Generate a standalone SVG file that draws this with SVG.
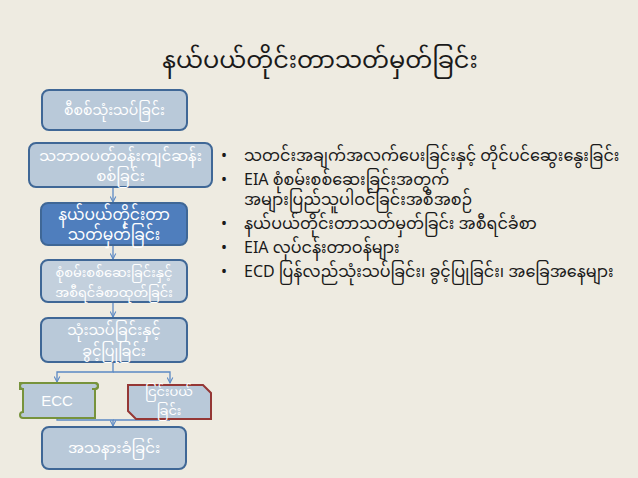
<svg xmlns="http://www.w3.org/2000/svg" width="638" height="478" viewBox="0 0 638 478">
<defs>
<style>
.bg{fill:#EEEBE1}
.t{font-family:"Noto Sans Myanmar","Padauk","Myanmar Text","Noto Sans","DejaVu Sans",sans-serif}
.title{font-size:24px;fill:#1a1a1a}
.box{fill:#B9C9D9;stroke:#3F6796;stroke-width:2}
.boxd{fill:#4F7EBD;stroke:#3F6796;stroke-width:2}
.bl{font-size:13.5px;fill:#FFFFFF}
.bul{font-size:16px;fill:#1a1a1a}
.conn{fill:none;stroke:#5B89C4;stroke-width:1.3}
</style>
<marker id="ah" viewBox="0 0 10 10" refX="9" refY="5" markerWidth="7" markerHeight="7" orient="auto" markerUnits="userSpaceOnUse">
<path d="M1,1 L9,5 L1,9" fill="none" stroke="#5B89C4" stroke-width="1.5"/>
</marker>
</defs>
<rect class="bg" x="0" y="0" width="638" height="478"/>
<text class="t title" x="320" y="68" text-anchor="middle">နယ်ပယ်တိုင်းတာသတ်မှတ်ခြင်း</text>

<g id="connectors">
<line class="conn" x1="113" y1="187" x2="113" y2="202" marker-end="url(#ah)"/>
<line class="conn" x1="113" y1="245" x2="113" y2="259" marker-end="url(#ah)"/>
<line class="conn" x1="113" y1="302" x2="113" y2="317" marker-end="url(#ah)"/>
<polyline class="conn" points="113,362 113,372 57,372 57,382" marker-end="url(#ah)"/>
<polyline class="conn" points="113,372 170,372 170,383" marker-end="url(#ah)"/>
<polyline class="conn" points="57,419 57,420 113,420 113,426" marker-end="url(#ah)"/>
<polyline class="conn" points="170,420 113,420"/>
</g>

<g id="n1"><rect class="box" x="42" y="90" width="145" height="40" rx="7"/>
<text class="t bl" x="114.5" y="115" text-anchor="middle" style="font-size:14px">စီစစ်သုံးသပ်ခြင်း</text></g>

<g id="n2"><rect class="box" x="29" y="143" width="183" height="44" rx="7"/>
<text class="t bl" x="120.5" y="161" text-anchor="middle" style="font-size:15px">သဘာဝပတ်ဝန်းကျင်ဆန်း</text>
<text class="t bl" x="120.5" y="181" text-anchor="middle" style="font-size:15px">စစ်ခြင်း</text></g>

<g id="n3"><rect class="boxd" x="41" y="203" width="146" height="42" rx="7"/>
<text class="t bl" x="114" y="220" text-anchor="middle" style="font-size:15.5px">နယ်ပယ်တိုင်းတာ</text>
<text class="t bl" x="114" y="240" text-anchor="middle" style="font-size:15.5px">သတ်မှတ်ခြင်း</text></g>

<g id="n4"><rect class="box" x="41" y="260" width="146" height="42" rx="7" style="fill:#C3D0DD"/>
<text class="t bl" x="114" y="277" text-anchor="middle" style="font-size:13px">စုံစမ်းစစ်ဆေးခြင်းနှင့်</text>
<text class="t bl" x="114" y="297" text-anchor="middle" style="font-size:13px">အစီရင်ခံစာထုတ်ခြင်း</text></g>

<g id="n5"><rect class="box" x="41" y="318" width="146" height="44" rx="7"/>
<text class="t bl" x="114" y="335" text-anchor="middle" style="font-size:14.5px">သုံးသပ်ခြင်းနှင့်</text>
<text class="t bl" x="114" y="356" text-anchor="middle" style="font-size:14.5px">ခွင့်ပြုခြင်း</text></g>

<g id="n6"><path d="M20,383 L95,383 A3,3 0 0 1 95,389 L95,418 L23,418 A3,3 0 0 1 23,412 L23,389 L20,389 Z" fill="#B9C9D9" stroke="#77933C" stroke-width="2"/>
<path d="M23,383 A3,3 0 0 0 23,389 M95,383 A3,3 0 0 1 95,389 L92,389" fill="none" stroke="#77933C" stroke-width="2"/>
<text x="57" y="406" text-anchor="middle" style="font-family:'Liberation Sans',sans-serif;font-size:15px;fill:#FFFFFF">ECC</text></g>

<g id="n7"><path d="M128,385 L203,385 L211,393 L211,419 L136,419 L128,411 Z" fill="#B9C9D9" stroke="#953735" stroke-width="2"/>
<text class="t bl" x="169" y="396" text-anchor="middle" style="font-size:13px">ငြင်းပယ်</text>
<text class="t bl" x="169" y="415" text-anchor="middle" style="font-size:13px">ခြင်း</text></g>

<g id="n8"><rect class="box" x="42" y="427" width="144" height="42" rx="7"/>
<text class="t bl" x="114" y="453" text-anchor="middle" style="font-size:15px">အသနားခံခြင်း</text></g>

<g id="bullets" class="t bul">
<text x="221" y="161">•</text><text x="244" y="161">သတင်းအချက်အလက်ပေးခြင်းနှင့် တိုင်ပင်ဆွေးနွေးခြင်း</text>
<text x="221" y="185">•</text><text x="244" y="185">EIA စုံစမ်းစစ်ဆေးခြင်းအတွက်</text>
<text x="244" y="205">အများပြည်သူပါဝင်ခြင်းအစီအစဉ်</text>
<text x="221" y="229">•</text><text x="244" y="229">နယ်ပယ်တိုင်းတာသတ်မှတ်ခြင်း အစီရင်ခံစာ</text>
<text x="221" y="253">•</text><text x="244" y="253">EIA လုပ်ငန်းတာဝန်များ</text>
<text x="221" y="277">•</text><text x="244" y="277">ECD ပြန်လည်သုံးသပ်ခြင်း၊ ခွင့်ပြုခြင်း၊ အခြေအနေများ</text>
</g>
</svg>
